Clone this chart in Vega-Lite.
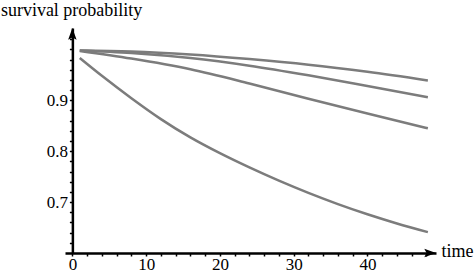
{
  "$schema": "https://vega.github.io/schema/vega-lite/v6.json",
  "width": 371,
  "height": 225,
  "autosize": {"type": "none"},
  "padding": {"left": 65, "top": 28, "right": 38, "bottom": 24},
  "config": {"view": {"stroke": null}, "font": "Liberation Serif, Times New Roman, serif"},
  "data": {
    "values": [
      {"kind": "curve", "series": "A", "t": 1, "v": 0.998},
      {"kind": "curve", "series": "A", "t": 8, "v": 0.996},
      {"kind": "curve", "series": "A", "t": 16, "v": 0.990},
      {"kind": "curve", "series": "A", "t": 24, "v": 0.981},
      {"kind": "curve", "series": "A", "t": 32, "v": 0.970},
      {"kind": "curve", "series": "A", "t": 40, "v": 0.956},
      {"kind": "curve", "series": "A", "t": 48.2, "v": 0.939},
      {"kind": "curve", "series": "B", "t": 1, "v": 0.998},
      {"kind": "curve", "series": "B", "t": 8, "v": 0.993},
      {"kind": "curve", "series": "B", "t": 16, "v": 0.983},
      {"kind": "curve", "series": "B", "t": 24, "v": 0.968},
      {"kind": "curve", "series": "B", "t": 32, "v": 0.949},
      {"kind": "curve", "series": "B", "t": 40, "v": 0.928},
      {"kind": "curve", "series": "B", "t": 48.2, "v": 0.906},
      {"kind": "curve", "series": "C", "t": 1, "v": 0.997},
      {"kind": "curve", "series": "C", "t": 8, "v": 0.982},
      {"kind": "curve", "series": "C", "t": 16, "v": 0.961},
      {"kind": "curve", "series": "C", "t": 24, "v": 0.933},
      {"kind": "curve", "series": "C", "t": 32, "v": 0.903},
      {"kind": "curve", "series": "C", "t": 40, "v": 0.874},
      {"kind": "curve", "series": "C", "t": 48.2, "v": 0.845},
      {"kind": "curve", "series": "D", "t": 1, "v": 0.983},
      {"kind": "curve", "series": "D", "t": 4, "v": 0.948},
      {"kind": "curve", "series": "D", "t": 8, "v": 0.904},
      {"kind": "curve", "series": "D", "t": 12, "v": 0.863},
      {"kind": "curve", "series": "D", "t": 16, "v": 0.827},
      {"kind": "curve", "series": "D", "t": 20, "v": 0.796},
      {"kind": "curve", "series": "D", "t": 24, "v": 0.768},
      {"kind": "curve", "series": "D", "t": 28, "v": 0.742},
      {"kind": "curve", "series": "D", "t": 32, "v": 0.718},
      {"kind": "curve", "series": "D", "t": 36, "v": 0.696},
      {"kind": "curve", "series": "D", "t": 40, "v": 0.676},
      {"kind": "curve", "series": "D", "t": 44, "v": 0.658},
      {"kind": "curve", "series": "D", "t": 48.2, "v": 0.641},
      {"kind": "arrow", "series": "arrow-y", "t": 0, "v": 1.029},
      {"kind": "arrow", "series": "arrow-x", "t": 48.42, "v": 0.6}
    ]
  },
  "encoding": {
    "x": {
      "field": "t",
      "type": "quantitative",
      "scale": {"domain": [-1, 49.3], "nice": false, "zero": false},
      "axis": {
        "orient": "bottom",
        "values": [0, 2, 4, 6, 8, 10, 12, 14, 16, 18, 20, 22, 24, 26, 28, 30, 32, 34, 36, 38, 40, 42, 44, 46, 48],
        "labelExpr": "datum.value % 10 === 0 ? datum.label : ''",
        "grid": false,
        "domainColor": "black",
        "domainWidth": 2.5,
        "tickColor": "black",
        "tickSize": 3,
        "tickWidth": 1.5,
        "labelFont": "Liberation Serif, Times New Roman, serif",
        "labelFontSize": 17,
        "labelColor": "black",
        "labelPadding": 0,
        "labelFlush": false,
        "labelOverlap": false,
        "title": "time",
        "titleFont": "Liberation Serif, Times New Roman, serif",
        "titleFontSize": 18,
        "titleFontWeight": "normal",
        "titleColor": "black",
        "titleAlign": "left",
        "titleBaseline": "alphabetic",
        "titleX": 376,
        "titleY": 3
      }
    },
    "y": {
      "field": "v",
      "type": "quantitative",
      "scale": {"domain": [0.6, 1.042], "nice": false, "zero": false},
      "axis": {
        "orient": "left",
        "offset": -7.38,
        "values": [0.62, 0.64, 0.66, 0.68, 0.7, 0.72, 0.74, 0.76, 0.78, 0.8, 0.82, 0.84, 0.86, 0.88, 0.9, 0.92, 0.94, 0.96, 0.98, 1.0, 1.02],
        "labelExpr": "(abs(datum.value-0.7)<0.001 || abs(datum.value-0.8)<0.001 || abs(datum.value-0.9)<0.001) ? format(datum.value, '.1f') : ''",
        "grid": false,
        "domainColor": "black",
        "domainWidth": 2.5,
        "tickColor": "black",
        "tickSize": 3,
        "tickWidth": 1.5,
        "labelFont": "Liberation Serif, Times New Roman, serif",
        "labelFontSize": 17,
        "labelColor": "black",
        "labelPadding": 2,
        "labelFlush": false,
        "labelOverlap": false,
        "title": "survival probability",
        "titleFont": "Liberation Serif, Times New Roman, serif",
        "titleFontSize": 18,
        "titleFontWeight": "normal",
        "titleColor": "black",
        "titleAngle": 0,
        "titleAlign": "left",
        "titleBaseline": "alphabetic",
        "titleX": -72,
        "titleY": -13
      }
    }
  },
  "layer": [
    {
      "transform": [{"filter": "datum.kind === 'curve'"}],
      "mark": {"type": "line", "color": "#7c7c7c", "strokeWidth": 2.5, "interpolate": "monotone"},
      "encoding": {"detail": {"field": "series", "type": "nominal"}}
    },
    {
      "transform": [{"filter": "datum.kind === 'arrow'"}],
      "mark": {"type": "point", "filled": true, "color": "black", "opacity": 1, "size": 169},
      "encoding": {
        "shape": {
          "field": "series",
          "type": "nominal",
          "scale": {"domain": ["arrow-x", "arrow-y"], "range": ["M1,0L-0.8,0.65L-0.45,0L-0.8,-0.65Z", "M0,-1L0.65,0.8L0,0.45L-0.65,0.8Z"]},
          "legend": null
        }
      }
    }
  ]
}
